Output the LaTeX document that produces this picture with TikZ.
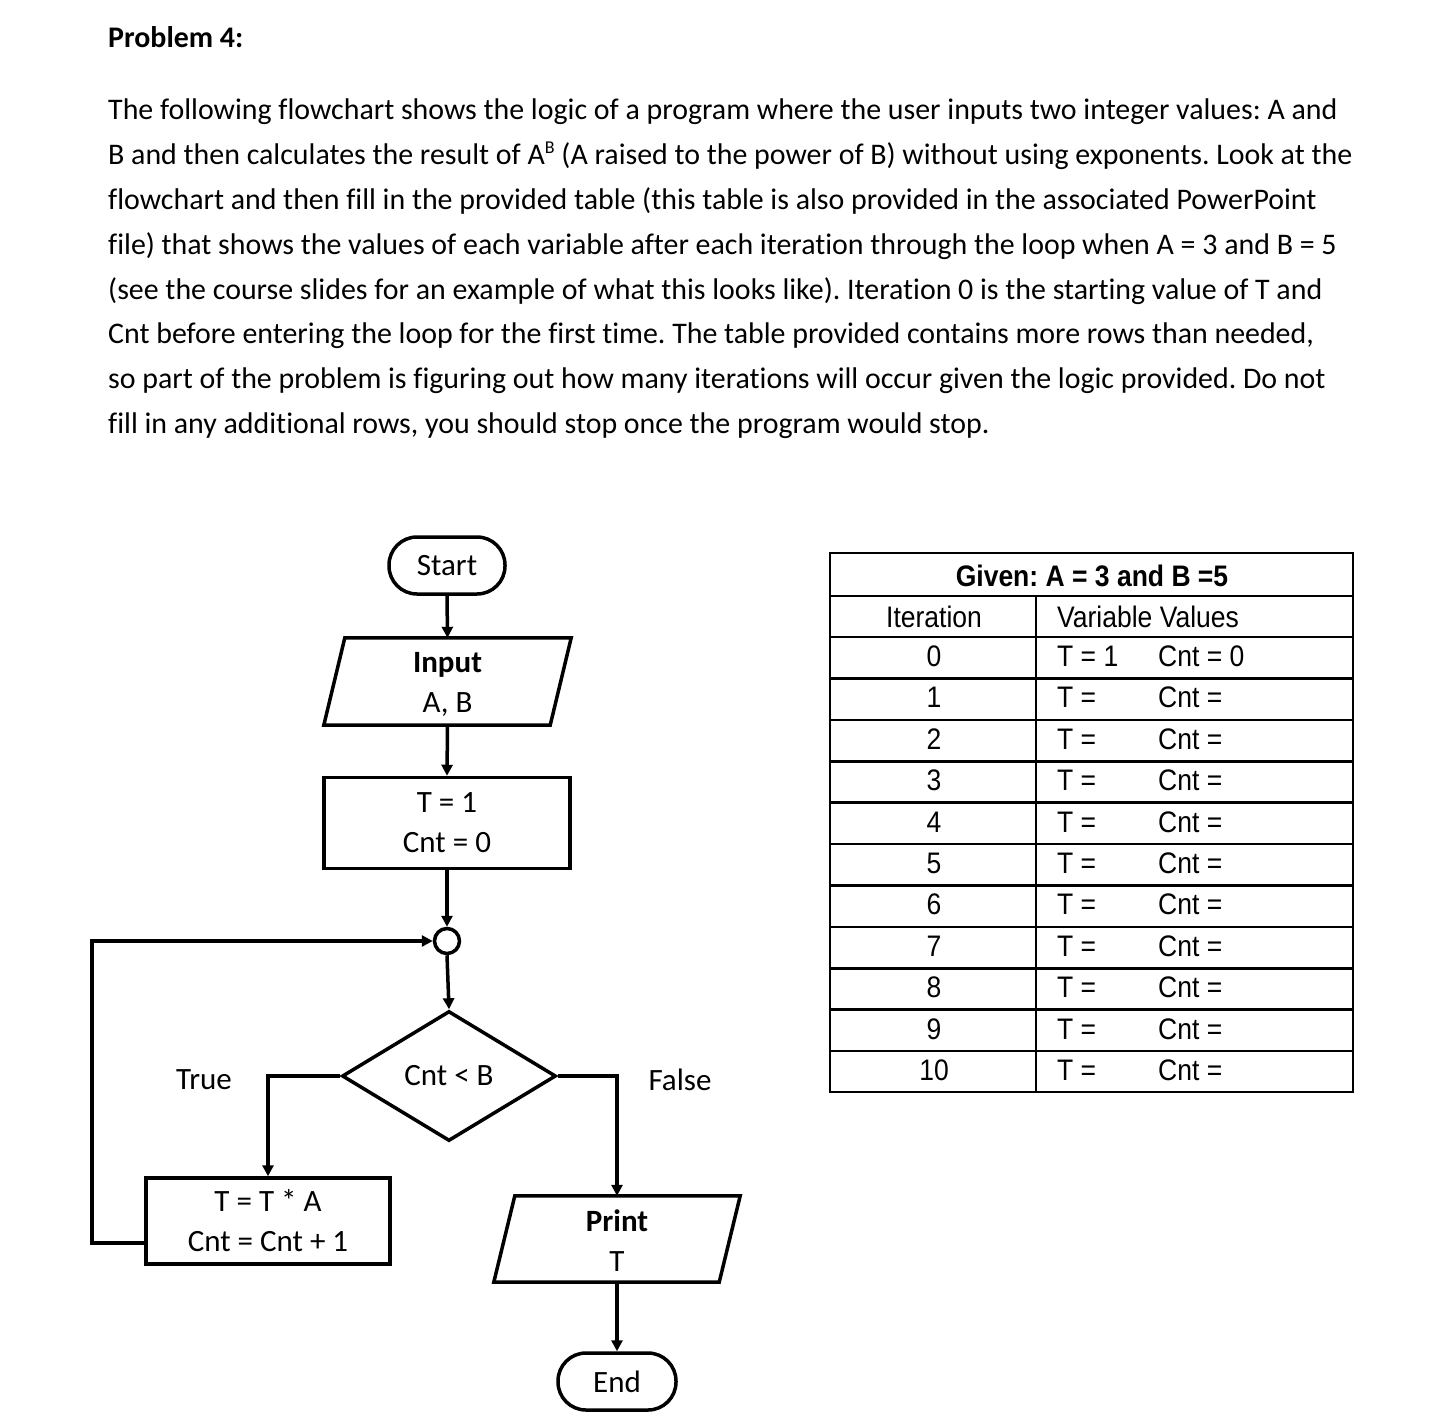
\documentclass[tikz,border=0pt]{standalone}
\usepackage{graphicx}
\usepackage{fontspec}
\setmainfont[Ligatures=NoCommon]{Carlito}
\newfontfamily\tabfont{Liberation Sans}
\usetikzlibrary{arrows.meta,shapes.geometric,calc}
\newcommand\tabs[1]{\scalebox{1}[1.12]{#1}}
\frenchspacing
\begin{document}
\begin{tikzpicture}[x=1pt,y=-1pt,
  body/.style={anchor=base west,inner sep=0pt,font=\fontsize{29.9}{35}\selectfont},
  fc/.style={font=\fontsize{31}{40}\selectfont,align=center,inner sep=0pt},
  shp/.style={draw=black,line width=3.5pt},
  term/.style={fc,shp,rounded corners=28pt,minimum width=116pt,minimum height=57pt},
  proc/.style={fc,shp,minimum height=88pt},
  iobox/.style={fc,minimum height=87pt,minimum width=226pt},
  conn/.style={line width=3.5pt},
  arr/.style={conn,-{Triangle[length=11pt,width=11pt]}},
  tline/.style={line width=2.6pt},
  tc/.style={anchor=base,inner sep=0pt,font=\tabfont\fontsize{26.5}{30}\selectfont},
  tl/.style={anchor=base west,inner sep=0pt,font=\tabfont\fontsize{26.5}{30}\selectfont},
  lbl/.style={font=\fontsize{31}{36}\selectfont,inner sep=0pt}
]
\useasboundingbox (0,0) rectangle (1434,1426);
\fill[white] (0,0) rectangle (1434,1426);

% ---- text ----
\node[body,font=\bfseries\fontsize{29.9}{35}\selectfont] (h) at (108,48) {Problem 4:};
\node[body] (l1) at (108,120) {The following flowchart shows the logic of a program where the user inputs two integer values: A and};
\node[body] (l2) at (108,164.75) {B and then calculates the result of A\raisebox{0.36em}{\fontsize{18}{20}\selectfont B} (A raised to the power of B) without using exponents. Look at the};
\node[body] (l3) at (108,209.5) {flowchart and then fill in the provided table (this table is also provided in the associated PowerPoint};
\node[body] (l4) at (108,254.25) {file) that shows the values of each variable after each iteration through the loop when A = 3 and B = 5};
\node[body] (l5) at (108,299) {(see the course slides for an example of what this looks like). Iteration 0 is the starting value of T and};
\node[body] (l6) at (108,343.75) {Cnt before entering the loop for the first time. The table provided contains more rows than needed,};
\node[body] (l7) at (108,388.5) {so part of the problem is figuring out how many iterations will occur given the logic provided. Do not};
\node[body] (l8) at (108,433.25) {fill in any additional rows, you should stop once the program would stop.};

% ---- flowchart ----
\node[term] (start) at (447,565.5) {Start};
\node[iobox] (inp) at (447.5,684) {\textbf{Input}\\A, B};
\draw[shp] ([xshift=10.5pt,yshift=2.5pt]inp.north west) -- ([xshift=10.5pt,yshift=2.5pt]inp.north east)
  -- ([xshift=-10.5pt,yshift=2.5pt]inp.south east) -- ([xshift=-10.5pt,yshift=2.5pt]inp.south west) -- cycle;
\node[proc,minimum width=246pt,minimum height=91pt] (init) at (447,823) {T = 1\\Cnt = 0};
\node[circle,draw,line width=3.5pt,minimum size=25pt,inner sep=0pt] (circ) at (447,941) {};
\node[diamond,shp,fc,minimum width=214pt,minimum height=130pt,inner sep=0pt] (dec) at (449,1076) {Cnt < B};
\node[proc,minimum width=244pt,minimum height=86pt] (calc) at (268,1221) {T = T * A\\Cnt = Cnt + 1};
\node[iobox,minimum width=225pt,minimum height=86pt] (prt) at (617,1240.5) {\textbf{Print}\\T};
\draw[shp] ([xshift=10.5pt,yshift=1.5pt]prt.north west) -- ([xshift=10.5pt,yshift=1.5pt]prt.north east)
  -- ([xshift=-10.5pt,yshift=1.5pt]prt.south east) -- ([xshift=-10.5pt,yshift=1.5pt]prt.south west) -- cycle;
\node[term,minimum width=118pt] (end) at (617,1381.5) {End};
\node[lbl] (tru) at (204,1080) {True};
\node[lbl] (fal) at (680,1080) {False};
\coordinate (loopc) at (92,1243);

\draw[arr] (start.south) -- ([yshift=2.5pt]inp.north);
\draw[arr] ([yshift=2.5pt]inp.south) -- (init.north);
\draw[arr] (init.south) -- (circ.north);
\draw[arr] (circ.south) -- (dec.north);
\draw[arr] (dec.west) -| (calc.north);
\draw[arr] (dec.east) -| ([yshift=1.5pt]prt.north);
\draw[arr] ([yshift=1.5pt]prt.south) -- (end.north);
\draw[arr] ([yshift=-22pt]calc.west) -- (loopc) |- (circ.west);

% ---- table ----
\draw[tline] (830,553) rectangle (1353,1092);
\draw[tline] (830,596) -- (1353,596);
\foreach \y in {637,678.4,719.8,761.2,802.6,844,885.4,926.8,968.2,1009.6,1051} {
  \draw[tline] (830,\y) -- (1353,\y);
}
\draw[tline] (1036,596) -- (1036,1092);
\node[tc,font=\tabfont\bfseries\fontsize{26.5}{30}\selectfont] (given) at (1092,586.5) {\tabs{Given: A = 3 and B =5}};
\node[tc] (ith) at (934,627.5) {\tabs{Iteration}};
\node[tl] (vvh) at (1057,627.5) {\tabs{Variable Values}};
\foreach \i in {0,...,10} {
  \pgfmathsetmacro{\yb}{637+41.4*\i+29.5}
  \node[tc] (n\i) at (934,\yb) {\tabs{\i}};
  \ifnum\i=0
    \node[tl] (t\i) at (1057,\yb) {\tabs{T = 1}};
    \node[tl] (c\i) at (1158,\yb) {\tabs{Cnt = 0}};
  \else
    \node[tl] (t\i) at (1057,\yb) {\tabs{T =}};
    \node[tl] (c\i) at (1158,\yb) {\tabs{Cnt =}};
  \fi
}
\end{tikzpicture}
\end{document}
